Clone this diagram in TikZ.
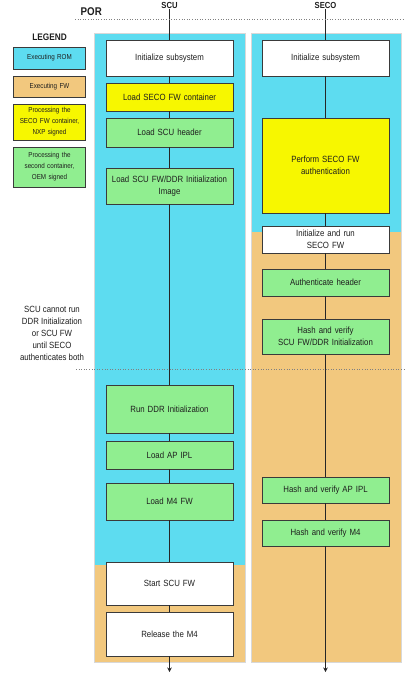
\documentclass[tikz,border=0pt]{standalone}
\usepackage{fontspec}
\setmainfont{Liberation Sans}[FakeStretch=0.87]
\usetikzlibrary{arrows.meta}
\definecolor{romc}{HTML}{5DDCF0}
\definecolor{fwc}{HTML}{F2C87E}
\definecolor{nxpc}{HTML}{F7F700}
\definecolor{oemc}{HTML}{90EE90}
\definecolor{edgec}{HTML}{3A3A3A}
\definecolor{lanec}{HTML}{D8D8D8}
\definecolor{txtc}{HTML}{1E1E1E}
\tikzset{
  stepbox/.style={draw=edgec, line width=0.9pt, minimum width=127pt, inner sep=1pt, align=center,
    text=txtc, font=\fontsize{9}{12}\selectfont, text width=124pt},
  legbox/.style={draw=edgec, line width=0.9pt, minimum width=72pt, inner sep=1pt, align=center,
    text=txtc, font=\fontsize{7.2}{11}\selectfont, text width=70pt},
  flow/.style={draw=black!85, line width=0.8pt},
  endarrow/.style={-{Stealth[length=4.5pt,width=4.5pt]}},
  lane/.style={draw=lanec, line width=0.8pt},
  sep/.style={draw=gray, line width=0.6pt, dotted},
  hdr/.style={font=\fontsize{8.8}{9}\selectfont\bfseries, text=txtc, inner sep=0pt},
}
\begin{document}
\begin{tikzpicture}[x=1pt,y=-1pt]
\useasboundingbox (0,0) rectangle (415,678);
% lanes
\fill[fwc] (94,33) rectangle (245,662);
\fill[romc] (94,33) rectangle (245,565);
\draw[lane] (94,33) rectangle (245,662);
\fill[fwc] (251,33) rectangle (401,662);
\fill[romc] (251,33) rectangle (401,232);
\draw[lane] (251,33) rectangle (401,662);
% headers
\node[hdr] (scu) at (169.5,5.5) {SCU};
\node[hdr] (seco) at (325.5,5.5) {SECO};
\node[hdr, font=\fontsize{11.2}{12}\selectfont\bfseries, anchor=west] (por) at (80.5,11.5) {POR};
\node[hdr, font=\fontsize{9.5}{10}\selectfont\bfseries] (leg) at (49.5,37) {LEGEND};
% legend
\node[legbox, fill=romc, minimum height=22pt] (l1) at (49.5,58) {Executing ROM};
\node[legbox, fill=fwc, minimum height=21pt] (l2) at (49.5,86.5) {Executing FW};
\node[legbox, fill=nxpc, minimum height=36pt] (l3) at (49.5,122) {Processing the\\SECO FW container,\\NXP signed};
\node[legbox, fill=oemc, minimum height=40pt] (l4) at (49.5,167) {Processing the\\second container,\\OEM signed};
% side note
\node[align=center, text=txtc, font=\fontsize{9}{12}\selectfont, inner sep=0pt] (note) at (52,333) {SCU cannot run\\DDR Initialization\\or SCU FW\\until SECO\\authenticates both};
% SCU boxes
\node[stepbox, fill=white, minimum height=36pt] (s1) at (169.5,58) {Initialize subsystem};
\node[stepbox, fill=nxpc, minimum height=28pt] (s2) at (169.5,97) {Load SECO FW container};
\node[stepbox, fill=oemc, minimum height=29pt] (s3) at (169.5,132.5) {Load SCU header};
\node[stepbox, fill=oemc, minimum height=36pt] (s4) at (169.5,186) {Load SCU FW/DDR Initialization\\Image};
\node[stepbox, fill=oemc, minimum height=48pt] (s5) at (169.5,409) {Run DDR Initialization};
\node[stepbox, fill=oemc, minimum height=28pt] (s6) at (169.5,455) {Load AP IPL};
\node[stepbox, fill=oemc, minimum height=37pt] (s7) at (169.5,501.5) {Load M4 FW};
\node[stepbox, fill=white, minimum height=43pt] (s8) at (169.5,583.5) {Start SCU FW};
\node[stepbox, fill=white, minimum height=44pt] (s9) at (169.5,634) {Release the M4};
\coordinate (scuend) at (169.5,672);
% SECO boxes
\node[stepbox, fill=white, minimum height=36pt] (e1) at (325.5,58) {Initialize subsystem};
\node[stepbox, fill=nxpc, minimum height=95pt] (e2) at (325.5,165.5) {Perform SECO FW\\authentication};
\node[stepbox, fill=white, minimum height=27pt] (e3) at (325.5,239.5) {Initialize and run\\SECO FW};
\node[stepbox, fill=oemc, minimum height=27pt] (e4) at (325.5,282.5) {Authenticate header};
\node[stepbox, fill=oemc, minimum height=35pt] (e5) at (325.5,336.5) {Hash and verify\\SCU FW/DDR Initialization};
\node[stepbox, fill=oemc, minimum height=26pt] (e6) at (325.5,490) {Hash and verify AP IPL};
\node[stepbox, fill=oemc, minimum height=26pt] (e7) at (325.5,533) {Hash and verify M4};
\coordinate (secoend) at (325.5,672);
% connectors
\draw[flow] (scu) -- (s1);
\draw[flow] (s1) -- (s2);
\draw[flow] (s2) -- (s3);
\draw[flow] (s3) -- (s4);
\draw[flow] (s4) -- (s5);
\draw[flow] (s5) -- (s6);
\draw[flow] (s6) -- (s7);
\draw[flow] (s7) -- (s8);
\draw[flow] (s8) -- (s9);
\draw[flow, endarrow] (s9) -- (scuend);
\draw[flow] (seco) -- (e1);
\draw[flow] (e1) -- (e2);
\draw[flow] (e2) -- (e3);
\draw[flow] (e3) -- (e4);
\draw[flow] (e4) -- (e5);
\draw[flow] (e5) -- (e6);
\draw[flow] (e6) -- (e7);
\draw[flow, endarrow] (e7) -- (secoend);
% separators
\draw[sep] (75,19) -- (405,19);
\draw[sep] (76,369) -- (404,369);
\end{tikzpicture}
\end{document}
